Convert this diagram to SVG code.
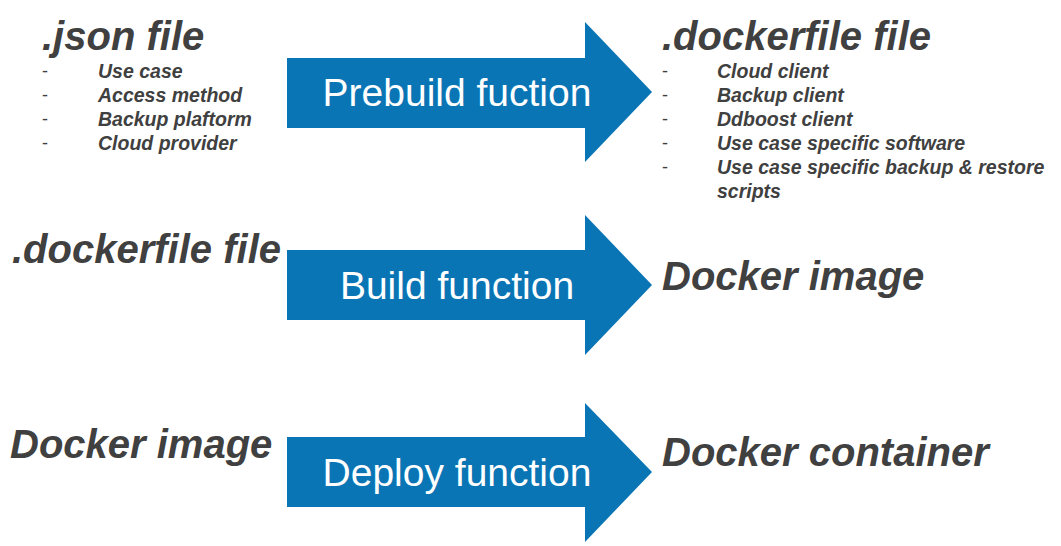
<svg xmlns="http://www.w3.org/2000/svg" width="1061" height="546" viewBox="0 0 1061 546">
<style>
.h{font-family:"Liberation Sans",Arial,sans-serif;font-weight:bold;font-style:italic;fill:#404040;font-size:40px}
.b{font-family:"Liberation Sans",Arial,sans-serif;font-weight:bold;font-style:italic;fill:#404040;font-size:19.5px}
.d{font-family:"Liberation Sans",Arial,sans-serif;fill:#404040;font-size:18px}
.a{fill:#0a75b5}
.l{font-family:"Liberation Sans",Arial,sans-serif;fill:#fff;font-size:39px;text-anchor:middle}
</style>
<rect width="1061" height="546" fill="#fff"/>
<g id="connectors">
<g id="arrow1"><path class="a" d="M287 58H585V22L652 92L585 162V128H287Z"/><text class="l" x="457" y="106">Prebuild fuction</text></g>
<g id="arrow2"><path class="a" d="M287 250H585V215L652 285L585 355V320H287Z"/><text class="l" x="457" y="299">Build function</text></g>
<g id="arrow3"><path class="a" d="M287 437H585V403L652 472L585 542V507H287Z"/><text class="l" x="457" y="486">Deploy function</text></g>
</g>
<g id="json">
<text class="h" x="42" y="50">.json file</text>
<g class="d"><text x="42" y="77">-</text><text x="42" y="101">-</text><text x="42" y="125">-</text><text x="42" y="149">-</text></g>
<text class="b" x="98" y="78">Use case</text>
<text class="b" x="98" y="102">Access method</text>
<text class="b" x="98" y="126">Backup plaftorm</text>
<text class="b" x="98" y="150">Cloud provider</text>
</g>
<g id="dockerfile1">
<text class="h" x="662" y="50">.dockerfile file</text>
<g class="d"><text x="662" y="77">-</text><text x="662" y="101">-</text><text x="662" y="125">-</text><text x="662" y="149">-</text><text x="662" y="173">-</text></g>
<text class="b" x="717" y="78">Cloud client</text>
<text class="b" x="717" y="102">Backup client</text>
<text class="b" x="717" y="126">Ddboost client</text>
<text class="b" x="717" y="150">Use case specific software</text>
<text class="b" x="717" y="174">Use case specific backup &amp; restore</text>
<text class="b" x="717" y="198">scripts</text>
</g>
<g id="dockerfile2"><text class="h" x="12" y="263">.dockerfile file</text></g>
<g id="image1"><text class="h" x="662" y="290">Docker image</text></g>
<g id="image2"><text class="h" x="10" y="458">Docker image</text></g>
<g id="container"><text class="h" x="662" y="466">Docker container</text></g>
</svg>
